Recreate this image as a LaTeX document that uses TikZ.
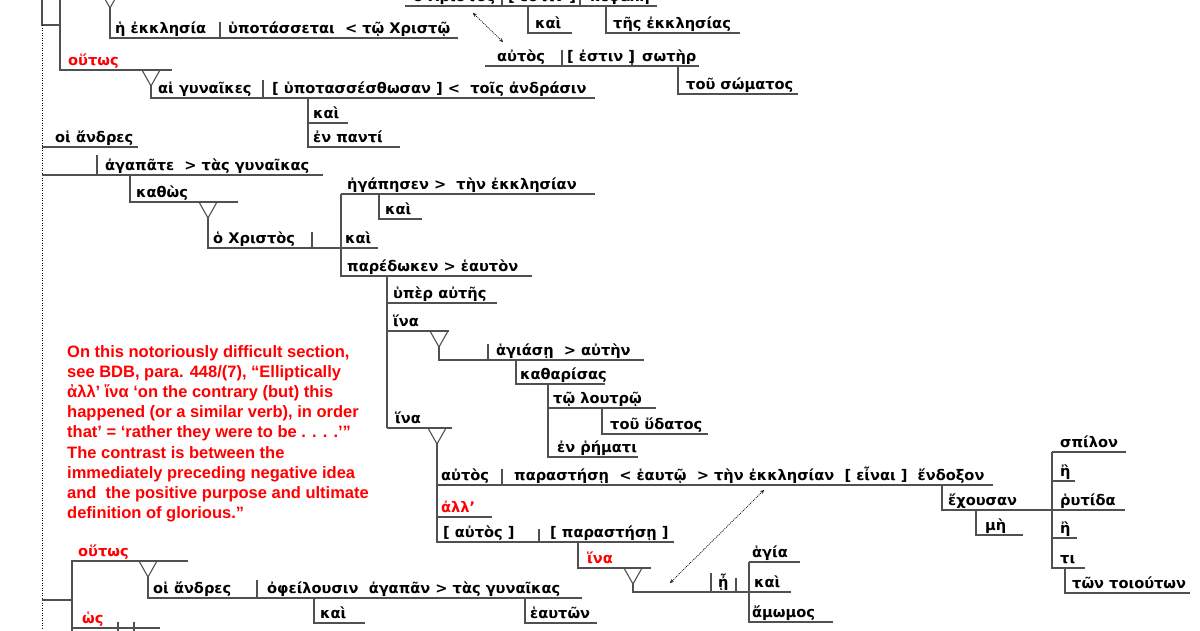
\documentclass[tikz,border=0pt]{standalone}
\usepackage{fontspec}
\usepackage{xcolor}
\newfontfamily\greek{DejaVu Sans}
\newfontfamily\notefont{Liberation Sans}
\definecolor{note}{HTML}{FF0000}
\definecolor{rule}{HTML}{505050}

\begin{document}
\begin{tikzpicture}[x=1pt,y=-1pt,
		line/.style={color=rule,line width=1.1pt},
		dots/.style={color=black,line width=0.8pt,dash pattern=on 1pt off 1.5pt},
		arr/.style={color=black,line width=0.7pt,dash pattern=on 1pt off 1pt,<->,>=stealth},
		word/.style={anchor=base west,inner sep=0pt,yshift=5pt,font=\greek\bfseries\fontsize{14.6}{16}\selectfont},
		redword/.style={word,text=note}]
		\useasboundingbox (0,0) rectangle (1200,630);
		%
		\draw[line] (42,0) -- (42,25) -- (60,25); %left frame
		\draw[line] (60,0) -- (60,70) -- (172,70);
		\draw[dots] (42,25) -- (42,630);
		%
		\draw[line] (405,6) -- (657,6); %head
		\draw[line] (502,-10) -- (502,6);
		\draw[line] (580,-10) -- (580,6);
		\draw[line] (528,6) -- (528,33) -- (572,33);
		\draw[line] (606,6) -- (606,33) -- (740,33);
		%
		\draw[line] (110,8) -- (110,38) -- (458,38); %church
		\draw[line] (220,22) -- (220,38);
		%
		\draw[line] (151,86) -- (151,98) -- (595,98); %wives
		\draw[line] (263,80) -- (263,98);
		\draw[line] (308,98) -- (308,147) -- (400,147);
		\draw[line] (308,123) -- (348,123);
		%
		\draw[line] (485,66) -- (699,66); %saviour
		\draw[line] (562,50) -- (562,66);
		\draw[line] (632,50) -- (632,66);
		\draw[line] (678,66) -- (678,94) -- (798,94);
		%
		\draw[line] (42,147) -- (138,147); %husbands
		\draw[line] (42,175) -- (323,175);
		\draw[line] (97,155) -- (97,175);
		\draw[line] (130,175) -- (130,202) -- (238,202);
		\draw[line] (208,218) -- (208,248) -- (378,248);
		\draw[line] (312,232) -- (312,248);
		\draw[line] (341,194) -- (595,194);
		\draw[line] (341,194) -- (341,276) -- (532,276);
		\draw[line] (379,194) -- (379,219) -- (422,219);
		\draw[line] (387,276) -- (387,428);
		\draw[line] (387,303) -- (497,303);
		\draw[line] (387,331) -- (449,331);
		\draw[line] (387,428) -- (452,428);
		%
		\draw[line] (439,347) -- (439,360) -- (644,360); %sanctify
		\draw[line] (488,344) -- (488,360);
		\draw[line] (516,360) -- (516,384) -- (605,384);
		\draw[line] (548,384) -- (548,457) -- (638,457);
		\draw[line] (548,408) -- (656,408);
		\draw[line] (602,408) -- (602,434) -- (708,434);
		%
		\draw[line] (437,444) -- (437,542) -- (674,542); %present
		\draw[line] (437,485) -- (993,485);
		\draw[line] (502,469) -- (502,485);
		\draw[line] (437,517) -- (492,517);
		\draw[line] (539,529) -- (539,542);
		\draw[line] (578,542) -- (578,568) -- (651,568);
		\draw[line] (633,584) -- (633,592) -- (791,592);
		\draw[line] (711,573) -- (711,592);
		\draw[line] (736,578) -- (736,592);
		\draw[line] (749,562) -- (749,622) -- (833,622);
		\draw[line] (749,562) -- (800,562);
		%
		\draw[line] (942,485) -- (942,510) -- (1125,510); %having
		\draw[line] (976,510) -- (976,535) -- (1023,535);
		\draw[line] (1052,452) -- (1052,568) -- (1085,568);
		\draw[line] (1052,452) -- (1126,452);
		\draw[line] (1052,481) -- (1075,481);
		\draw[line] (1052,538) -- (1077,538);
		\draw[line] (1065,568) -- (1065,593) -- (1190,593);
		%
		\draw[line] (42,600) -- (72,600); %so husbands
		\draw[line] (72,640) -- (72,561) -- (188,561);
		\draw[line] (148,577) -- (148,598) -- (582,598);
		\draw[line] (257,580) -- (257,598);
		\draw[line] (314,598) -- (314,623) -- (365,623);
		\draw[line] (525,598) -- (525,623) -- (597,623);
		\draw[line] (72,628) -- (160,628);
		\draw[line] (118,622) -- (118,640);
		\draw[line] (134,622) -- (134,640);
		%
		\foreach \x/\y in {110/-8,151/70,208/202,439/331,437/428,633/568,148/561}
		\draw[line] (\x-9,\y) -- (\x,\y+16) -- (\x+9,\y);
		%
		\coordinate (d1) at (473,13);
		\coordinate (d2) at (503,42);
		\draw[arr] (d1) -- (d2);
		\coordinate (d3) at (764,490);
		\coordinate (d4) at (670,583);
		\draw[arr] (d3) -- (d4);
		%
		\node[word] (xristos1) at (413,6) {ὁ Χριστὸς};
		\node[word] (estin1) at (508,6) {[ ἐστιν ]};
		\node[word] (kefale) at (590,6) {κεφαλὴ};
		\node[word] (kai1) at (535,33) {καὶ};
		\node[word] (ekkl1) at (613,33) {τῆς ἐκκλησίας};
		\node[word] (ekkl2) at (115,38) {ἡ ἐκκλησία};
		\node[word] (hypot1) at (228,38) {ὑποτάσσεται~ < τῷ Χριστῷ};
		\node[redword] (houtos1) at (68,70) {οὕτως};
		\node[word] (gyn) at (158,98) {αἱ γυναῖκες};
		\node[word] (hypot2) at (272,98) {[ ὑποτασσέσθωσαν ] <~ τοῖς ἀνδράσιν};
		\node[word] (kai2) at (313,123) {καὶ};
		\node[word] (panti) at (313,147) {ἐν παντί};
		\node[word] (autos1) at (497,66) {αὐτὸς};
		\node[word] (estin2) at (567,66) {[ ἐστιν ]};
		\node[word] (soter) at (642,66) {σωτὴρ};
		\node[word] (somatos) at (686,94) {τοῦ σώματος};
		\node[word] (andres1) at (55,147) {οἱ ἄνδρες};
		\node[word] (agapate) at (105,175) {ἀγαπᾶτε~ > τὰς γυναῖκας};
		\node[word] (kathos) at (136,202) {καθὼς};
		\node[word] (xristos2) at (213,248) {ὁ Χριστὸς};
		\node[word] (egapesen) at (347,194) {ἠγάπησεν >~ τὴν ἐκκλησίαν};
		\node[word] (kai3) at (385,219) {καὶ};
		\node[word] (kai4) at (345,248) {καὶ};
		\node[word] (paredoken) at (347,276) {παρέδωκεν > ἑαυτὸν};
		\node[word] (hyper) at (393,303) {ὑπὲρ αὐτῆς};
		\node[word] (hina1) at (393,331) {ἵνα};
		\node[word] (hagiase) at (496,360) {ἁγιάσῃ~ > αὐτὴν};
		\node[word] (katharisas) at (520,384) {καθαρίσας};
		\node[word] (loutro) at (553,408) {τῷ λουτρῷ};
		\node[word] (hydatos) at (610,434) {τοῦ ὕδατος};
		\node[word] (rhemati) at (557,457) {ἐν ῥήματι};
		\node[word] (hina2) at (395,428) {ἵνα};
		\node[word] (autos2) at (441,485) {αὐτὸς};
		\node[word] (parastese1) at (514,485) {παραστήσῃ~ < ἑαυτῷ~ > τὴν ἐκκλησίαν~ [ εἶναι ]~ ἔνδοξον};
		\node[redword] (all) at (441,517) {ἀλλ’};
		\node[word] (autos3) at (443,542) {[ αὐτὸς ]};
		\node[word] (parastese2) at (550,542) {[ παραστήσῃ ]};
		\node[redword] (hina3) at (587,568) {ἵνα};
		\node[word] (e1) at (718,592) {ᾖ};
		\node[word] (hagia) at (752,562) {ἁγία};
		\node[word] (kai5) at (754,592) {καὶ};
		\node[word] (amomos) at (752,622) {ἄμωμος};
		\node[word] (echousan) at (948,510) {ἔχουσαν};
		\node[word] (me) at (985,535) {μὴ};
		\node[word] (spilon) at (1060,452) {σπίλον};
		\node[word] (e2) at (1060,481) {ἢ};
		\node[word] (rhytida) at (1060,510) {ῥυτίδα};
		\node[word] (e3) at (1060,538) {ἢ};
		\node[word] (ti) at (1060,568) {τι};
		\node[word] (toiouton) at (1072,593) {τῶν τοιούτων};
		\node[redword] (houtos2) at (78,561) {οὕτως};
		\node[word] (andres2) at (153,598) {οἱ ἄνδρες};
		\node[word] (opheilousin) at (267,598) {ὀφείλουσιν~ ἀγαπᾶν > τὰς γυναῖκας};
		\node[word] (kai6) at (320,623) {καὶ};
		\node[word] (heauton) at (530,623) {ἑαυτῶν};
		\node[redword] (hos) at (82,628) {ὡς};
		%
		\node[anchor=north west,inner sep=0pt,align=left,text=note,font=\notefont\bfseries\fontsize{16.5}{20.2}\selectfont] (remark) at (67,345) {On this notoriously difficult section,\\see BDB, para. 448/(7), “Elliptically\\ἀλλ’ ἵνα ‘on the contrary (but) this\\happened (or a similar verb), in order\\that’ = ‘rather they were to be . . . .’”\\The contrast is between the\\immediately preceding negative idea\\and~ the positive purpose and ultimate\\definition of glorious.”};
\end{tikzpicture}
\end{document}
